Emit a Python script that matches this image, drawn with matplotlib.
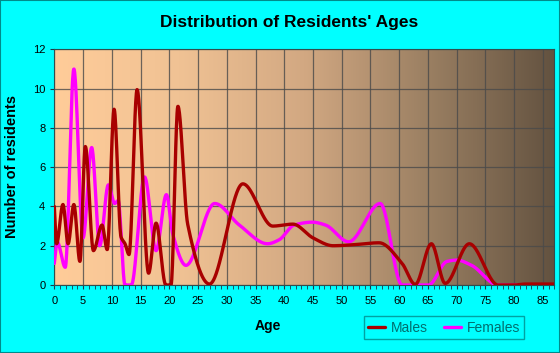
import numpy as np
import matplotlib
matplotlib.use('Agg')
import matplotlib.pyplot as plt
from matplotlib.colors import LinearSegmentedColormap
from matplotlib.patches import Rectangle

# Values (age, number of residents)
male_ages = [0.0, 0.4, 1.5, 2.4, 3.4, 4.45, 5.4, 6.8, 8.3, 9.2, 10.4, 11.6, 12.3,
             13.0, 14.4, 16.4, 17.7, 19.4, 20.3, 21.5, 23.2, 27.0, 32.8, 38.0,
             41.5, 45.0, 48.5, 52.0, 56.5, 60.5, 62.8, 65.6, 68.0, 72.2, 77.2,
             80.0, 82.0, 87.0]
male_vals = [4.0, 2.1, 4.1, 2.1, 4.1, 1.2, 7.05, 1.75, 3.05, 1.8, 8.95, 2.45, 2.1,
             1.55, 9.95, 0.6, 3.15, 0.0, 0.0, 9.1, 3.1, 0.05, 5.15, 3.0,
             3.1, 2.4, 2.0, 2.05, 2.15, 1.1, 0.03, 2.1, 0.08, 2.1, 0.0,
             0.0, 0.05, 0.05]

female_ages = [0.0, 0.5, 1.9, 3.4, 5.0, 6.5, 7.9, 9.4, 10.5, 11.1, 12.3, 13.4,
               15.7, 17.7, 19.5, 20.6, 22.9, 27.9, 32.2, 37.1, 39.1, 41.7, 44.9,
               47.2, 51.2, 56.7, 60.5, 65.1, 68.3, 70.0, 72.6, 77.2, 87.0]
female_vals = [1.1, 2.2, 0.9, 11.0, 2.4, 7.0, 2.0, 5.1, 4.15, 4.3, 0.0, 0.0,
               5.5, 1.75, 4.6, 2.6, 1.0, 4.15, 3.05, 2.1, 2.3, 3.05, 3.2,
               3.05, 2.2, 4.15, 0.0, 0.0, 1.2, 1.27, 1.0, 0.0, 0.0]

x_ticks = list(range(0, 90, 5))
y_ticks = list(range(0, 13, 2))


def smooth(x, y, n=1500):
    # monotone cubic (pchip) curve through the read points
    x = np.asarray(x, float)
    y = np.asarray(y, float)
    h = np.diff(x)
    d = np.diff(y) / h
    m = np.zeros_like(y)
    for k in range(1, len(x) - 1):
        if d[k - 1] * d[k] > 0:
            w1 = 2 * h[k] + h[k - 1]
            w2 = h[k] + 2 * h[k - 1]
            m[k] = (w1 + w2) / (w1 / d[k - 1] + w2 / d[k])
    m[0] = d[0]
    m[-1] = d[-1]
    xs = np.linspace(x[0], x[-1], n)
    i = np.clip(np.searchsorted(x, xs) - 1, 0, len(x) - 2)
    t = (xs - x[i]) / h[i]
    h00 = 2 * t**3 - 3 * t**2 + 1
    h10 = t**3 - 2 * t**2 + t
    h01 = -2 * t**3 + 3 * t**2
    h11 = t**3 - t**2
    ys = h00 * y[i] + h10 * h[i] * m[i] + h01 * y[i + 1] + h11 * h[i] * m[i + 1]
    return xs, np.clip(ys, 0, None)


plt.rcParams['font.family'] = ['Liberation Sans', 'DejaVu Sans']

fig = plt.figure(figsize=(5.6, 3.53), dpi=100, facecolor='#00FFFF')
fig.patches.append(Rectangle((0, 0), 1, 1, transform=fig.transFigure, fill=False,
                             edgecolor='#008B8B', linewidth=1.5))
ax = fig.add_axes([0.097, 0.1926, 0.893, 0.6677])

# background gradient
grad = LinearSegmentedColormap.from_list('bg', ['#FFCC99', '#F0C294', '#D2A882',
                                                '#9A7F62', '#635240'])
ax.imshow(np.linspace(0, 1, 256).reshape(1, -1), cmap=grad, aspect='auto',
          extent=[0, 87, 0, 12], zorder=0)

fx, fy = smooth(female_ages, female_vals)
mx, my = smooth(male_ages, male_vals)
ax.plot(fx, fy, color='#FF00FF', linewidth=2.4, label='Females', zorder=3,
        solid_capstyle='round')
ax.plot(mx, my, color='#A80000', linewidth=2.4, label='Males', zorder=4,
        solid_capstyle='round')

ax.set_xlim(0, 87)
ax.set_ylim(0, 12)
ax.set_xticks(x_ticks)
ax.set_xticks(range(0, 88), minor=True)
ax.set_yticks(y_ticks)
ax.grid(True, which='major', color='#4a4a4a', linewidth=0.9, alpha=0.8, zorder=1)
ax.tick_params(axis='x', which='both', direction='out', colors='#1a3a4a',
               labelcolor='black', labelsize=8, pad=5)
ax.tick_params(axis='x', which='major', length=3)
ax.tick_params(axis='x', which='minor', length=3)
ax.tick_params(axis='y', direction='out', length=3, colors='#1a3a4a',
               labelcolor='black', labelsize=8)
for s in ax.spines.values():
    s.set_color('#2f4f4f')
    s.set_linewidth(0.8)

fig.text(0.517, 0.935, "Distribution of Residents' Ages", ha='center', va='center',
         fontsize=12.5, fontweight='bold', color='black')
fig.text(0.022, 0.527, 'Number of residents', rotation=90, ha='center', va='center',
         fontsize=10.5, fontweight='bold', color='black')
fig.text(0.478, 0.077, 'Age', ha='center', va='center', fontsize=10,
         fontweight='bold', color='black')

handles, labels = ax.get_legend_handles_labels()
leg = fig.legend(handles[::-1], labels[::-1], loc='center',
                 bbox_to_anchor=(0.793, 0.072), ncol=2, frameon=True,
                 fancybox=False, edgecolor='#008B8B', facecolor='#00FFFF',
                 fontsize=10, handlelength=1.2, handletextpad=0.4,
                 columnspacing=1.2, borderpad=0.3)
leg.get_frame().set_linewidth(1.0)
for t in leg.get_texts():
    t.set_color('#006F6F')

fig.savefig('out.png', dpi=100, facecolor=fig.get_facecolor())
